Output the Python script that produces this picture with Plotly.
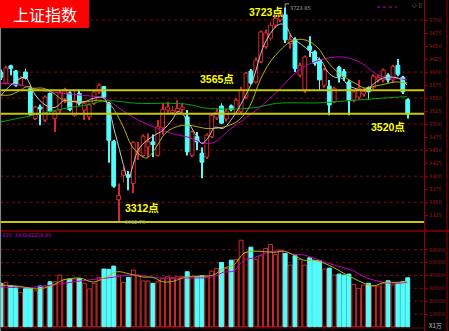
import plotly.graph_objects as go

# ---------------- data ----------------
idx = list(range(84))
opens = [3600,3579,3612,3602,3575,3600,3568,3511,3533,3508,3559,3511,3527,3549,3560,3517,3559,3527,3514,3540,
         3562,3572,3540,3467,3355,3402,3403,3386,3448,3440,3456,3466,3440,3493,3527,3522,3524,3528,3514,3440,
         3476,3444,3437,3476,3512,3535,3510,3535,3521,3524,3552,3602,3581,3620,3649,3665,3690,3700,3710,3655,
         3663,3594,3564,3650,3639,3624,3575,3573,3543,3609,3601,3581,3546,3552,3558,3570,3570,3585,3585,3594,
         3585,3613,3590,3547]
highs = [3605,3612,3614,3604,3592,3607,3573,3535,3538,3555,3561,3527,3566,3570,3563,3565,3565,3545,3540,3565,
         3578,3573,3543,3470,3386,3418,3410,3467,3466,3480,3482,3480,3508,3540,3543,3535,3546,3540,3527,3488,
         3485,3455,3482,3521,3530,3540,3530,3538,3550,3572,3600,3606,3628,3680,3682,3695,3708,3717,3723.85,3672,
         3667,3618,3632,3669,3642,3628,3608,3585,3572,3612,3606,3585,3565,3585,3570,3573,3596,3594,3607,3598,
         3614,3625,3593,3550]
lows = [3585,3576,3594,3572,3573,3586,3516,3508,3498,3504,3523,3485,3520,3540,3525,3514,3536,3508,3508,3537,
        3558,3550,3426,3378,3312.73,3388,3373,3368,3431,3436,3437,3437,3438,3480,3522,3518,3520,3522,3440,3437,
        3450,3396,3433,3473,3508,3500,3505,3525,3518,3520,3548,3576,3578,3617,3645,3660,3685,3696,3656,3645,
        3600,3590,3560,3629,3612,3565,3570,3517,3540,3580,3583,3517,3542,3548,3553,3547,3567,3580,3580,3580,
        3580,3592,3558,3511]
closes = [3590,3608,3607,3575,3589,3588,3519,3533,3529,3552,3525,3524,3560,3567,3528,3546,3540,3540,3537,3562,
          3575,3552,3469,3381,3363,3411,3398,3465,3450,3477,3466,3461,3495,3528,3533,3526,3530,3533,3447,3485,
          3466,3427,3479,3517,3523,3502,3525,3528,3546,3565,3598,3579,3623,3677,3675,3690,3703,3714,3662,3662,
          3607,3613,3629,3642,3617,3585,3604,3537,3569,3592,3591,3546,3562,3569,3563,3562,3592,3590,3604,3585,
          3611,3596,3562,3519]
volumes = [33900,34600,32000,31200,26900,30000,30000,28100,31800,31800,35100,35100,40300,37000,37200,37200,37700,33900,29500,33900,
           38500,45000,44700,47300,40300,34600,38500,44200,40300,35700,35700,33900,35100,37700,39000,38200,39000,39000,42900,38500,
           39000,39800,39000,43400,45500,50100,45500,51900,52500,67400,57900,62000,52500,55300,61000,64100,56400,59700,57100,48100,
           55300,52500,48100,53700,51700,51700,45000,45700,40300,41100,40300,41100,33100,30000,32600,33900,31800,31800,33900,35900,
           32600,33900,35100,38200]
# up / down flags as drawn (red hollow = up, cyan = down)
up = [0,1,0,0,1,0,0,1,0,1,0,1,1,1,0,1,0,1,1,1,
      1,0,0,0,1,1,0,1,1,1,1,0,1,1,1,1,1,1,0,1,
      0,0,1,1,1,0,1,0,1,1,1,0,1,1,1,1,1,1,0,1,
      0,1,1,0,0,0,1,0,1,0,0,0,1,1,1,0,1,1,1,0,
      1,0,0,0]

# moving-average lines (candle position, value)
ma5_x = [-0.2,2,4,5,7,9,11,13,15,17,19,21,23.3,24.9,25.9,28,29.8,31.4,33,34.9,36.1,36.9,38.2,39.6,41,42.2,43.7,45.3,47.3,49.4,51.4,53.5,55.5,56.9,58,59.4,60.6,62,63.7,65.5,66.7,68.2,69.6,70.8,72.2,73.7,74.9,76.3,77.8,79,80.4,81.8,82.9]
ma5_y = [3553,3575,3588,3590,3556,3537,3532,3546,3543,3543,3550,3550,3482,3425,3396,3450,3469,3479,3488,3508,3524,3521,3504,3482,3463,3473,3494,3492,3513,3546,3585,3648,3681,3692,3690,3667,3658,3648,3635,3620,3600,3590,3588,3575,3569,3565,3569,3579,3588,3590,3590,3585,3575]
ma10_x = [-0.2,1.8,3.9,5.3,6.5,8.6,10.6,12.7,14.7,17.6,20.2,22.2,24.7,26.7,28.8,29.8,31.4,33.5,35.5,37.6,39.6,41.6,43.7,46.7,48.8,50.8,52.9,54.9,57,59,61,63.1,65.1,66.1,68.2,70.2,72.2,74.3,76.3,78.4,80.4,82.9]
ma10_y = [3556,3556,3565,3572,3569,3569,3560,3546,3543,3543,3546,3538,3500,3458,3438,3435,3452,3482,3494,3498,3496,3492,3492,3498,3510,3535,3585,3619,3642,3658,3663,3658,3642,3627,3604,3590,3579,3569,3573,3577,3581,3579]
ma20_x = [-0.2,3.9,8,12,16.1,20.2,21.2,24.7,28,31.4,34.9,38.2,41.6,43.7,46.7,49.4,52.9,56.3,59.6,62.4,65.1,66.7,69.6,72.2,74.3,76.3,78.4,80.4,82.9]
ma20_y = [3579,3575,3565,3560,3556,3552,3550,3527,3508,3494,3482,3475,3463,3466,3490,3508,3533,3562,3594,3613,3623,3627,3629,3623,3613,3598,3590,3588,3585]
ma60_x = [-0.2,6.5,13.5,17.6,21.2,28,34.9,38.2,41.6,46.7,52,56.3,65.1,70.8,77.8,82.9]
ma60_y = [3504,3517,3531,3537,3545,3540,3540,3538,3531,3529,3532,3540,3541,3545,3550,3553]
vma1_x = [-0.2,3.9,7.3,10,12.7,16.1,18.8,21.6,23.7,26.3,29,31,33,35.1,37.9,40.6,43.3,45.5,47.5,49.6,51.6,53.7,55.7,57.8,59.8,61.8,63.9,65.9,68,70,72,74.1,76.1,78.2,80.2,82.9]
vma1_y = [32600,31500,29500,31500,36400,38000,34900,39000,42900,41100,38800,38500,35100,35500,39000,39500,40300,45700,48100,57400,58900,58500,58000,58900,55800,51900,51900,49600,46000,41600,37700,33900,32000,34600,34600,35100]
vma2_x = [-0.2,5.3,10.6,16.1,21.6,26.9,32.4,37.9,43.3,45.5,47.5,49.6,51.6,53.7,55.7,57.8,59.8,61.8,63.9,65.9,68,70,72,74.1,76.1,78.2,80.2,82.9]
vma2_y = [31200,30500,32600,35700,38000,40300,38000,38000,39000,42600,43500,51900,53700,57100,58900,58500,56400,56000,53300,50600,48100,46000,43400,39000,36400,34600,33900,34600]

price_ticks = [3700,3675,3650,3625,3600,3575,3550,3525,3500,3475,3450,3425,3400,3375,3350,3325]
price_grid = [3700,3600,3550,3500,3450,3400,3350]
vol_ticks = [60000,50000,40000,30000,20000,10000]
levels = [3565, 3520, 3312]
level_labels = ["3565点", "3520点", "3312点"]

# ---------------- styling ----------------
RED = "#d62a2a"
CYAN = "#54fcfc"
AXRED = "#8a1010"
W, H = 449, 331
XR = [-1/4.9, 423/4.9]
XD1 = 424 / W

fig = go.Figure()

wick_col = [RED if u else CYAN for u in up]
body_fill = ["#000000" if u else CYAN for u in up]
lo_b = [min(o, c) for o, c in zip(opens, closes)]
hgt = [max(abs(c - o), 0.8) for o, c in zip(opens, closes)]

fig.add_trace(go.Bar(x=idx, y=[h - l for h, l in zip(highs, lows)], base=lows, width=0.2,
                     marker=dict(color=wick_col, line=dict(width=0)), yaxis="y", hoverinfo="skip"))
fig.add_trace(go.Bar(x=idx, y=hgt, base=lo_b, width=0.78,
                     marker=dict(color=body_fill, line=dict(color=wick_col, width=1)), yaxis="y", hoverinfo="skip"))

fig.add_trace(go.Scatter(x=ma60_x, y=ma60_y, mode="lines", line=dict(color="#00a800", width=1, shape="spline"), yaxis="y"))
fig.add_trace(go.Scatter(x=ma20_x, y=ma20_y, mode="lines", line=dict(color="#c000c0", width=1, shape="spline"), yaxis="y"))
fig.add_trace(go.Scatter(x=ma10_x, y=ma10_y, mode="lines", line=dict(color="#b4b400", width=1, shape="spline"), yaxis="y"))
fig.add_trace(go.Scatter(x=ma5_x, y=ma5_y, mode="lines", line=dict(color="#c8c8c8", width=1, shape="spline"), yaxis="y"))

fig.add_trace(go.Bar(x=idx, y=volumes, width=0.8,
                     marker=dict(color=body_fill, line=dict(color=wick_col, width=1)), yaxis="y2", hoverinfo="skip"))
fig.add_trace(go.Scatter(x=vma2_x, y=vma2_y, mode="lines", line=dict(color="#c000c0", width=1, shape="spline"), yaxis="y2"))
fig.add_trace(go.Scatter(x=vma1_x, y=vma1_y, mode="lines", line=dict(color="#b4b400", width=1, shape="spline"), yaxis="y2"))

shapes = []
for g in price_grid:
    shapes.append(dict(type="line", xref="paper", x0=0, x1=XD1, yref="y", y0=g, y1=g,
                       line=dict(color="#7a0a0a", width=1, dash="dot"), layer="below"))
for v in vol_ticks:
    shapes.append(dict(type="line", xref="paper", x0=0, x1=XD1, yref="y2", y0=v, y1=v,
                       line=dict(color="#7a0a0a", width=1, dash="dot"), layer="below"))
for lv in levels:
    shapes.append(dict(type="line", xref="paper", x0=0, x1=XD1, yref="y", y0=lv, y1=lv,
                       line=dict(color="#c8c800", width=2)))
# panel separator, borders
shapes.append(dict(type="line", xref="paper", yref="paper", x0=0, x1=1, y0=100/H, y1=100/H,
                   line=dict(color="#900000", width=1.5)))
shapes.append(dict(type="line", xref="paper", yref="paper", x0=447/W, x1=447/W, y0=0, y1=1,
                   line=dict(color="#900000", width=1)))
shapes.append(dict(type="line", xref="paper", yref="paper", x0=0.6/W, x1=0.6/W, y0=0, y1=1,
                   line=dict(color="#909090", width=1)))
shapes.append(dict(type="line", xref="paper", yref="paper", x0=0, x1=XD1, y0=3/H, y1=3/H,
                   line=dict(color="#700000", width=1)))
# title box
shapes.append(dict(type="rect", xref="paper", yref="paper", x0=0, x1=89/W, y0=1-28/H, y1=1,
                   fillcolor="#ff0000", line=dict(width=0)))
# top dotted legend mark
shapes.append(dict(type="line", xref="paper", yref="paper", x0=377/W, x1=397/W, y0=1-7/H, y1=1-7/H,
                   line=dict(color="#c000c0", width=1, dash="dot")))
# high marker leader
shapes.append(dict(type="line", xref="x", yref="y", x0=58, x1=58, y0=3723.85, y1=3731,
                   line=dict(color="#a0a0a0", width=1)))
shapes.append(dict(type="line", xref="x", yref="y", x0=58, x1=58.8, y0=3731, y1=3731,
                   line=dict(color="#a0a0a0", width=1)))

ann = []
ann.append(dict(text="上证指数", xref="paper", yref="paper", x=44.5/W, y=1-14/H, showarrow=False,
                font=dict(family="Noto Sans CJK SC", size=16, color="#ffffff"), xanchor="center", yanchor="middle"))
ann_pos = [(266, 12, "3723点"), (217, 79, "3565点"), (388, 127, "3520点"), (142, 208, "3312点")]
for px, py, t in ann_pos:
    ann.append(dict(text="<b>" + t + "</b>", xref="paper", yref="paper", x=px/W, y=1-py/H, showarrow=False,
                    font=dict(family="Liberation Sans, Noto Sans CJK SC", size=10.5, color="#ffff00"),
                    xanchor="center", yanchor="middle"))
ann.append(dict(text="3723.85", xref="paper", yref="paper", x=288/W, y=1-8/H, showarrow=False,
                font=dict(family="DejaVu Sans", size=5, color="#a0a0a0"), xanchor="left", yanchor="middle"))
ann.append(dict(text="← 3312.73", xref="paper", yref="paper", x=117/W, y=1-222/H, showarrow=False,
                font=dict(family="DejaVu Sans", size=5, color="#a0a0a0"), xanchor="left", yanchor="middle"))
ann.append(dict(text="410: 343242208.80", xref="paper", yref="paper", x=0, y=1-234.5/H, showarrow=False,
                font=dict(family="DejaVu Sans", size=5, color="#c000c0"), xanchor="left", yanchor="middle"))
ann.append(dict(text="◇ ▯", xref="paper", yref="paper", x=410/W, y=1-4/H, showarrow=False,
                font=dict(family="DejaVu Sans", size=6, color="#909090"), xanchor="left", yanchor="middle"))
ann.append(dict(text="X1万", xref="paper", yref="paper", x=427/W, y=1-325/H, showarrow=False,
                font=dict(family="Noto Sans CJK SC", size=6, color="#c0c0c0"), xanchor="left", yanchor="middle"))

fig.update_layout(
    width=W, height=H, margin=dict(l=0, r=0, t=0, b=0),
    paper_bgcolor="#000000", plot_bgcolor="#000000", showlegend=False, barmode="overlay",
    xaxis=dict(domain=[0, XD1], range=XR, visible=False, fixedrange=True),
    yaxis=dict(domain=[100/H, 1], range=[3294.9, 3738.4], side="right", anchor="x",
               tickvals=price_ticks, ticktext=[str(t) for t in price_ticks],
               tickfont=dict(family="DejaVu Sans", size=5, color="#a01818"),
               showgrid=False, zeroline=False, showline=True, linecolor="#900000", linewidth=1,
               ticks="outside", ticklen=3, tickcolor="#900000"),
    yaxis2=dict(domain=[0, 99/H], range=[-3190, 73800], side="right", anchor="x",
                tickvals=vol_ticks, ticktext=[str(t) for t in vol_ticks],
                tickfont=dict(family="DejaVu Sans", size=5, color="#a01818"),
                showgrid=False, zeroline=False, showline=True, linecolor="#900000", linewidth=1,
                ticks="outside", ticklen=3, tickcolor="#900000"),
    shapes=shapes, annotations=ann,
)

fig.write_html("out.html")
